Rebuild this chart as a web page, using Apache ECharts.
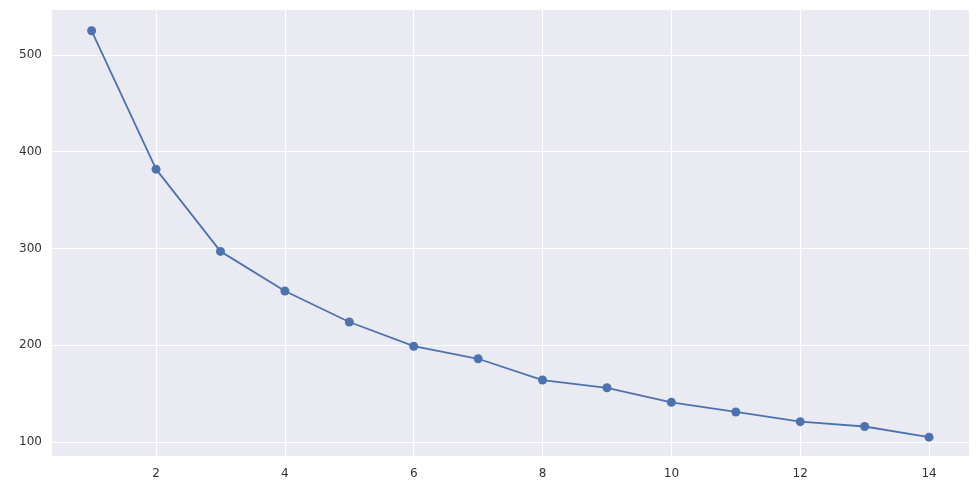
<!DOCTYPE html>
<html>
<head>
<meta charset="utf-8">
<script src="https://cdn.jsdelivr.net/npm/echarts@6/dist/echarts.min.js"></script>
<style>body{margin:0;background:#fff}#chart{width:979px;height:498px}</style>
</head>
<body>
<div id="chart"></div>
<script>
// number of clusters vs. inertia
const clusters = [1, 2, 3, 4, 5, 6, 7, 8, 9, 10, 11, 12, 13, 14];
const inertia = [525, 382, 297, 256, 224, 199, 186, 164, 156, 141, 131, 121, 116, 105];
const xTicks = [2, 4, 6, 8, 10, 12, 14];
const yTicks = [100, 200, 300, 400, 500];

let chart = echarts.init(document.getElementById('chart'), null, { renderer: 'canvas' });
let option = {
    animation: false,
    grid: {
        left: 52, right: 10, top: 10, bottom: 42,
        show: true, backgroundColor: '#EAEAF2', borderWidth: 0
    },
    xAxis: {
        type: 'value', min: 0.385, max: 14.62,
        axisLine: { show: false },
        axisTick: { show: false, customValues: xTicks },
        axisLabel: { customValues: xTicks, color: '#333', fontSize: 12, margin: 12, fontFamily: 'DejaVu Sans' },
        splitLine: { show: true, lineStyle: { color: '#fff', width: 1.2 } }
    },
    yAxis: {
        type: 'value', min: 85.5, max: 546.5,
        axisLine: { show: false },
        axisTick: { show: false, customValues: yTicks },
        axisLabel: { customValues: yTicks, color: '#333', fontSize: 12, margin: 10, fontFamily: 'DejaVu Sans' },
        splitLine: { show: true, lineStyle: { color: '#fff', width: 1.2 } }
    },
    series: [{
        type: 'line',
        data: clusters.map((c, i) => [c, inertia[i]]),
        symbol: 'circle', symbolSize: 9,
        lineStyle: { color: '#4C72B0', width: 1.8 },
        itemStyle: { color: '#4C72B0' }
    }]
};
chart.setOption(option);
</script>
</body>
</html>
